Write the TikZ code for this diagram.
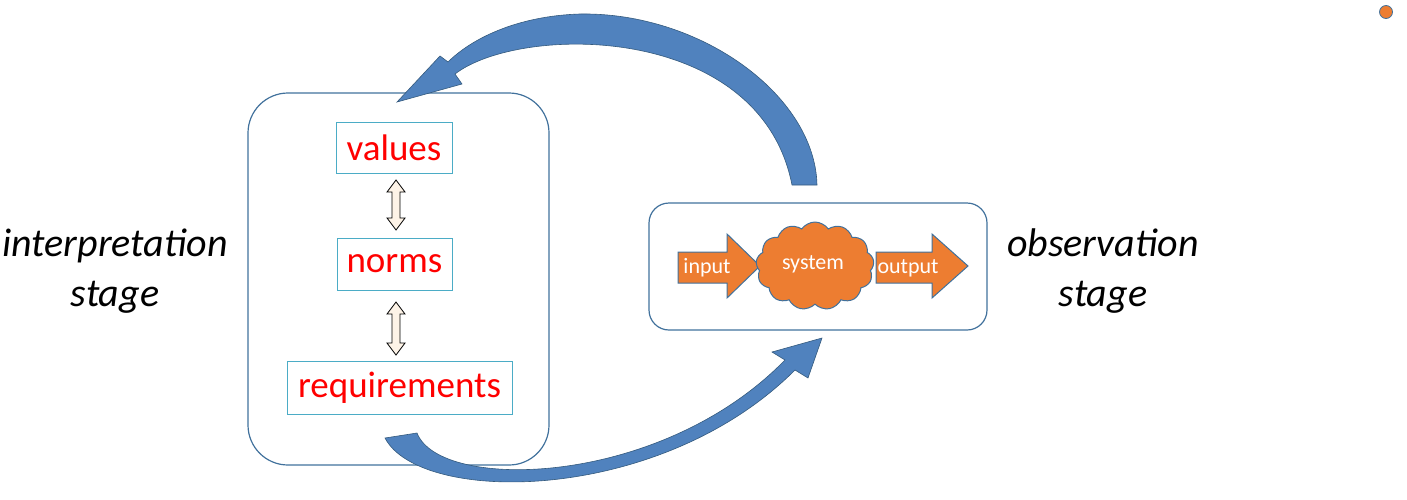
\documentclass[tikz,border=0pt]{standalone}
\usepackage{fontspec}
\setmainfont{Carlito}
\usetikzlibrary{shapes.symbols,shapes.arrows}
\definecolor{bord}{RGB}{65,113,156}
\definecolor{cy}{RGB}{75,172,198}
\definecolor{org}{RGB}{237,125,49}
\definecolor{arr}{RGB}{80,130,190}
\definecolor{beige}{RGB}{253,243,231}
\begin{document}
\begin{tikzpicture}[x=1pt,y=-1pt,
  panel/.style={draw=bord,line width=1.2pt,rounded corners=#1},
  word/.style={draw=cy,line width=1pt,text=red,font=\fontsize{37}{40}\selectfont,inner sep=0pt},
  dbl/.style={draw=black,fill=beige,line width=0.8pt},
  oarr/.style={draw=bord,fill=org,line width=1pt},
  big/.style={fill=arr,draw=bord!80!black,line width=0.6pt},
  small/.style={text=white,font=\fontsize{22}{24}\selectfont},
  stage/.style={font=\itshape\fontsize{40}{50}\selectfont,align=center}]
\useasboundingbox (0,0) rectangle (1407,499);
\draw[panel=40pt] (248,93) rectangle (549,465);
\draw[panel=20pt] (649,203) rectangle (987,330);
\node[word,minimum width=116pt,minimum height=51pt] (val) at (394,147.5) {values};
\node[word,minimum width=115pt,minimum height=52pt] (nor) at (394.5,264) {norms};
\node[word,minimum width=225pt,minimum height=53pt] (req) at (399.5,387.5) {requirements};
\foreach \a/\b in {180/230,302/355}{
 \draw[dbl] (396,\a) -- (405,\a+12) -- (400,\a+12) -- (400,\b-12) -- (405,\b-12) -- (396,\b) -- (387,\b-12) -- (392,\b-12) -- (392,\a+12) -- (387,\a+12) -- cycle;}
\node[stage] (it) at (115,271) {interpretation\\stage};
\node[stage] (ob) at (1103,271) {observation\\stage};
\draw[oarr] (678,252) -- (727,252) -- (727,234) -- (760,266) -- (727,298) -- (727,283) -- (678,283) -- cycle;
\node[small] (in) at (707,268) {input};
\draw[oarr] (876,252) -- (932,252) -- (932,234) -- (968,266) -- (932,298) -- (932,283) -- (876,283) -- cycle;
\node[small] (out) at (908,268) {output};
\node[cloud,cloud puffs=13,cloud puff arc=110,aspect=1.3,oarr,minimum width=118pt,minimum height=88pt] (sys) at (815,266) {};
\node[small] at (813,264) {system};
% curved arrows
\path[big] (817,185) .. controls (815,95) and (700,12) .. (580,14) .. controls (515,16) and (470,40) .. (448,62)
  -- (440,56) -- (397,102) -- (462,84) -- (455,74)
  .. controls (520,24) and (760,22) .. (792,185) -- cycle;
\path[big] (385,438) .. controls (420,505) and (660,505) .. (795,370) -- (808,378) -- (822,338) -- (772,352) -- (785,360)
  .. controls (660,488) and (440,492) .. (417,433) -- cycle;
\fill[org] (1386,12) circle (6.5);
\draw[bord,line width=0.8pt] (1386,12) circle (6.5);
\end{tikzpicture}
\end{document}
